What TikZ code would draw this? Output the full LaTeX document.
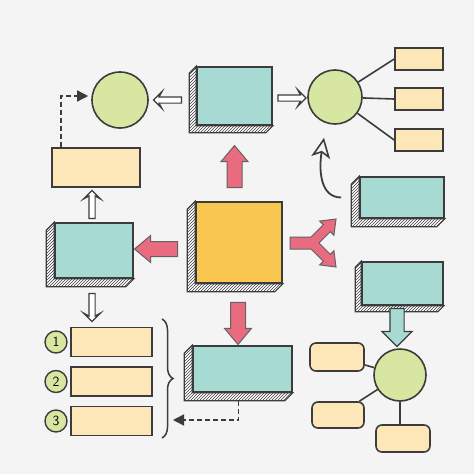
\documentclass[tikz,border=0pt]{standalone}
\usepackage{tikz}
\usetikzlibrary{shapes.geometric,shapes.arrows,arrows.meta,calc,patterns,decorations.pathreplacing}
\definecolor{bgc}{RGB}{244,244,244}
\definecolor{teal1}{RGB}{168,218,212}
\definecolor{lime1}{RGB}{215,231,161}
\definecolor{cream}{RGB}{253,231,184}
\definecolor{gold}{RGB}{249,199,79}
\definecolor{rose}{RGB}{232,107,127}
\definecolor{ink}{RGB}{60,60,60}

\begin{document}
\begin{tikzpicture}[x=1pt,y=-1pt]
	\tikzstyle{box} = [rectangle, draw=ink, line width=1.6pt, inner sep=0pt]
	\tikzstyle{face} = [box, fill=teal1]
	\tikzstyle{note} = [box, fill=cream]
	\tikzstyle{pill} = [note, rounded corners=6pt]
	\tikzstyle{ball} = [circle, draw=ink, line width=1.6pt, fill=lime1, inner sep=0pt]
	\tikzstyle{depth} = [draw=ink, line width=1.2pt, pattern=north east lines, pattern color=ink, preaction={fill=white}]
	\tikzstyle{hollow} = [single arrow, draw=ink, fill=white, line width=1.2pt, inner sep=2.5pt, single arrow head extend=5.5pt, single arrow head indent=3pt, minimum height=28pt]
	\tikzstyle{pinkarrow} = [single arrow, draw=ink!80, fill=rose, line width=1pt, inner sep=7pt, single arrow head extend=6pt, single arrow tip angle=80, minimum height=42pt]
	\tikzstyle{link} = [draw=ink, line width=1.6pt]
	\tikzstyle{dasharrow} = [draw=ink, line width=1.5pt, dash pattern=on 5pt off 3pt, -{Triangle[length=11pt,width=11pt]}]
  \fill[bgc] (0,0) rectangle (474,474);
  \useasboundingbox (0,0) rectangle (474,474);

  \node(lc)[ball, minimum size=56pt] at (120,100) {};
  \node(rc)[ball, minimum size=54pt] at (335,97) {};
  \node(brc)[ball, minimum size=52pt] at (400,375) {};

  \node(tbox)[face, minimum width=75pt, minimum height=58pt] at (234.5,96) {};
  \node(cbox)[box, fill=gold, minimum width=86pt, minimum height=81pt] at (239,242.5) {};
  \node(lbox)[face, minimum width=78pt, minimum height=55pt] at (94,250.5) {};
  \node(rbox)[face, minimum width=84pt, minimum height=41pt] at (402,197.5) {};
  \node(bbox)[face, minimum width=99pt, minimum height=46pt] at (242.5,369) {};
  \node(callout)[face, minimum width=81pt, minimum height=43pt] at (402.5,283.5) {};
  \foreach \b/\d in {tbox/7, cbox/8, lbox/8, rbox/8, bbox/8, callout/6}
    \draw[depth] (\b.north west) -- ++(-\d,\d) -- ($(\b.south west)+(-\d,\d)$) -- ($(\b.south east)+(-\d,\d)$) -- (\b.south east) -- (\b.south west) -- cycle;
  \node(tail)[single arrow, draw=ink, fill=teal1, line width=1.2pt, inner sep=6.5pt, single arrow head extend=8pt, shape border rotate=270, minimum height=38pt] at (397,324) {};

  \node(ybox)[note, minimum width=88pt, minimum height=39pt] at (96,167.5) {};
  \node(s1)[note, minimum width=48pt, minimum height=22pt] at (419,59) {};
  \node(s2)[note, minimum width=48pt, minimum height=22pt] at (419,99) {};
  \node(s3)[note, minimum width=48pt, minimum height=22pt] at (419,140) {};
  \node(pa)[pill, minimum width=54pt, minimum height=28pt] at (337,357) {};
  \node(pb)[pill, minimum width=52pt, minimum height=26pt] at (338,415) {};
  \node(pc)[pill, minimum width=54pt, minimum height=27pt] at (403,438.5) {};
  \foreach \i/\y in {1/342, 2/381.5, 3/421}{
    \node(n\i)[ball, minimum size=22pt, line width=1.4pt, font=\sffamily\fontsize{14}{14}\selectfont] at (56,\y) {\i};
    \node(l\i)[note, minimum width=81pt, minimum height=29pt] at (111.5,\y) {};
  }

  \node(up)[pinkarrow, shape border rotate=90] at (234.5,171) {};
  \node(dn)[pinkarrow, shape border rotate=270] at (238,319) {};
  \node(lt)[pinkarrow, shape border rotate=180, minimum height=43pt] at (160.5,249) {};
  \filldraw[draw=ink!80, fill=rose, line width=1pt] (290,237) -- (311,237) -- (323.3,224.7) -- (319.7,221.1) -- (336,219) -- (333.9,235.3) -- (330.3,231.7) -- (319,243) -- (330.3,254.3) -- (333.9,250.7) -- (336,267) -- (319.7,264.9) -- (323.3,261.3) -- (311,249) -- (290,249) -- cycle;

  \node(h1)[hollow, shape border rotate=180] at (169,100) {};
  \node(h2)[hollow] at (290.5,98) {};
  \node(h3)[hollow, shape border rotate=90] at (92,206) {};
  \node(h4)[hollow, shape border rotate=270] at (92,306) {};

  \draw[link] (rc) -- (s1.west);
  \draw[link] (rc) -- (s2.west);
  \draw[link] (rc) -- (s3.west);
  \draw[link] (pa) -- (brc);
  \draw[link] (pb) -- (brc);
  \draw[link] (brc.south) -- (brc.south |- pc.north);

  \draw[ink, line width=1.8pt, -{Stealth[open, inset=5pt, length=20pt, width=19pt, line width=1.6pt]}] ([xshift=-18pt]rbox.west) .. controls +(-22,0) and +(-5,30) .. ([xshift=-11pt,yshift=-13pt]rc.south);
  \draw[dasharrow] ([xshift=10pt]ybox.north west) |- ([xshift=-3pt,yshift=4pt]lc.west);
  \coordinate (bt) at (162,319);
  \coordinate (bb) at (162,438);
  \coordinate (dend) at (173,420);
  \draw[ink, line width=1.5pt, decorate, decoration={brace, amplitude=11pt}] (bt) -- (bb);
  \draw[dasharrow] ([xshift=-4pt,yshift=-8pt]bbox.south) |- (dend);
\end{tikzpicture}
\end{document}
